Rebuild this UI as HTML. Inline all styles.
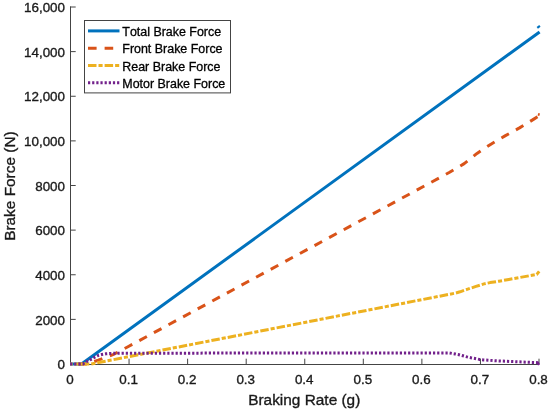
<!DOCTYPE html>
<html><head><meta charset="utf-8"><style>
html,body{margin:0;padding:0;background:#fff;width:550px;height:412px;overflow:hidden}
svg{display:block}
text{font-family:"Liberation Sans",Arial,Helvetica,sans-serif;font-kerning:none}
.t{fill:#1a1a1a;stroke:#1a1a1a;stroke-width:0.35px}
.l{fill:#000;stroke:#000;stroke-width:0.3px}
</style></head><body>
<svg width="550" height="412" viewBox="0 0 550 412">
<rect width="550" height="412" fill="#fff"/>

<g stroke="#444" stroke-width="1" fill="none">
<path d="M70.5 6.5 V364.5 H539.0"/>
<path d="M70 364.00 h5.7"/>
<path d="M70 319.38 h5.7"/>
<path d="M70 274.75 h5.7"/>
<path d="M70 230.12 h5.7"/>
<path d="M70 185.50 h5.7"/>
<path d="M70 140.88 h5.7"/>
<path d="M70 96.25 h5.7"/>
<path d="M70 51.62 h5.7"/>
<path d="M70 7.00 h5.7"/>
<path d="M70.50 364.0 v-5.3"/>
<path d="M129.06 364.0 v-5.3"/>
<path d="M187.62 364.0 v-5.3"/>
<path d="M246.19 364.0 v-5.3"/>
<path d="M304.75 364.0 v-5.3"/>
<path d="M363.31 364.0 v-5.3"/>
<path d="M421.88 364.0 v-5.3"/>
<path d="M480.44 364.0 v-5.3"/>
<path d="M539.00 364.0 v-5.3"/>
</g>
<defs><clipPath id="c"><rect x="68" y="0" width="475" height="368"/></clipPath></defs>
<g clip-path="url(#c)" fill="none" stroke-linejoin="round">
<polyline points="70.0,364.0 81.5,364.0 539.6,32.0" stroke="#0072BD" stroke-width="3.0"/>
<path d="M537.3 27.9 L539.9 25.9" stroke="#0072BD" stroke-width="2.2"/>
<path d="M537.6 362 L539 365" stroke="#72218B" stroke-width="2.2"/>
<path d="M538.4 115.8 L539.2 113.2" stroke="#D95319" stroke-width="1.8"/>
<polyline points="70.0,364.0 86.0,364.0 98.3,360.2 113.0,354.7 128.4,346.5 449.6,172.3 464.2,163.6 477.0,153.4 490.9,144.2 505.0,135.9 519.5,127.9 534.2,118.9 538.2,116.4 539.2,113.3" stroke="#D95319" stroke-width="3.0" stroke-dasharray="8.60 8.01" stroke-dashoffset="8.62"/>
<polyline points="70.0,364.0 91.0,364.0 455.0,293.2 460.0,291.8 467.0,289.4 476.0,286.4 484.0,283.9 490.0,282.6 499.0,281.2 508.8,279.5 536.8,274.4 539.2,271.3" stroke="#EDB120" stroke-width="3.0" stroke-dasharray="8.50 2.00 4.11 2.00" stroke-dashoffset="5.83"/>
<polyline points="70.0,364.0 83.0,364.0 86.9,361.5 90.5,359.6 94.2,357.5 97.8,355.6 101.8,354.5 105.8,353.8 110.2,353.4 120.0,353.2 449.0,352.9 455.0,353.9 459.0,354.7 463.0,355.8 467.0,356.9 471.0,357.8 475.0,358.5 479.3,359.4 483.6,359.9 488.0,360.2 496.0,360.8 538.5,362.7" stroke="#72218B" stroke-width="3.0" stroke-dasharray="2.20 1.952" stroke-dashoffset="4.066"/>
</g>
<text class="t" x="65" y="369.1" text-anchor="end" font-size="13.4">0</text>
<text class="t" x="65" y="324.5" text-anchor="end" font-size="13.4">2000</text>
<text class="t" x="65" y="279.9" text-anchor="end" font-size="13.4">4000</text>
<text class="t" x="65" y="235.2" text-anchor="end" font-size="13.4">6000</text>
<text class="t" x="65" y="190.6" text-anchor="end" font-size="13.4">8000</text>
<text class="t" x="65" y="146.0" text-anchor="end" font-size="13.4">10,000</text>
<text class="t" x="65" y="101.3" text-anchor="end" font-size="13.4">12,000</text>
<text class="t" x="65" y="56.7" text-anchor="end" font-size="13.4">14,000</text>
<text class="t" x="65" y="12.1" text-anchor="end" font-size="13.4">16,000</text>
<text class="t" x="70.0" y="384" text-anchor="middle" font-size="13.4">0</text>
<text class="t" x="128.6" y="384" text-anchor="middle" font-size="13.4">0.1</text>
<text class="t" x="187.1" y="384" text-anchor="middle" font-size="13.4">0.2</text>
<text class="t" x="245.7" y="384" text-anchor="middle" font-size="13.4">0.3</text>
<text class="t" x="304.2" y="384" text-anchor="middle" font-size="13.4">0.4</text>
<text class="t" x="362.8" y="384" text-anchor="middle" font-size="13.4">0.5</text>
<text class="t" x="421.4" y="384" text-anchor="middle" font-size="13.4">0.6</text>
<text class="t" x="479.9" y="384" text-anchor="middle" font-size="13.4">0.7</text>
<text class="t" x="538.5" y="384" text-anchor="middle" font-size="13.4">0.8</text>
<text class="t" x="304.25" y="405" text-anchor="middle" font-size="15.4">Braking Rate (g)</text>
<text class="t" transform="translate(15 186.1) rotate(-90)" x="0" y="0" text-anchor="middle" font-size="15.4">Brake Force (N)</text>
<rect x="84.5" y="20.5" width="146" height="72.4" fill="#fff" stroke="#444" stroke-width="1"/>
<path d="M88 30.9 H119.5" stroke="#0072BD" stroke-width="3.0" fill="none"/>
<text class="l" x="122.3" y="36.1" font-size="12.45">Total Brake Force</text>
<path d="M88 48.2 H119.5" stroke="#D95319" stroke-width="3.0" fill="none" stroke-dasharray="8.60 8.01"/>
<text class="l" x="122.3" y="53.4" font-size="12.45">Front Brake Force</text>
<path d="M88 65.4 H119.5" stroke="#EDB120" stroke-width="3.0" fill="none" stroke-dasharray="8.50 2.00 4.11 2.00"/>
<text class="l" x="122.3" y="70.6" font-size="12.45">Rear Brake Force</text>
<path d="M88 82.8 H119.5" stroke="#72218B" stroke-width="3.0" fill="none" stroke-dasharray="2.20 1.952"/>
<text class="l" x="122.3" y="88.0" font-size="12.45">Motor Brake Force</text>
</svg></body></html>
